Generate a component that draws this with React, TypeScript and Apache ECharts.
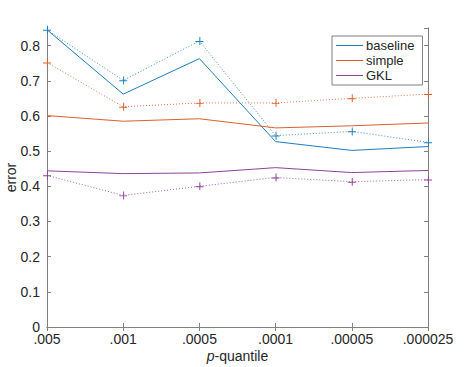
import React, { useEffect, useRef } from "react";
import * as echarts from "echarts";

const categories = [".005", ".001", ".0005", ".0001", ".00005", ".000025"];
const baselineSolid = [0.845, 0.662, 0.763, 0.527, 0.502, 0.513];
const baselineDotted = [0.845, 0.701, 0.813, 0.544, 0.556, 0.525];
const simpleSolid = [0.601, 0.585, 0.592, 0.566, 0.572, 0.58];
const simpleDotted = [0.752, 0.626, 0.637, 0.637, 0.65, 0.662];
const gklSolid = [0.444, 0.436, 0.438, 0.453, 0.439, 0.445];
const gklDotted = [0.431, 0.374, 0.4, 0.425, 0.413, 0.419];
const yTicks = [0, 0.1, 0.2, 0.3, 0.4, 0.5, 0.6, 0.7, 0.8];

const BLUE = "#1f7ec0";
const ORANGE = "#dc6030";
const PURPLE = "#8a4596";
const AXIS = "#808080";
const TEXT = "#262626";
const FONT = "Liberation Sans, Arial, sans-serif";
const PLUS = "path://M0,4.45 L9,4.45 L9,5.55 L0,5.55 Z M4.45,0 L5.55,0 L5.55,9 L4.45,9 Z";

export default function App() {
  const ref = useRef<HTMLDivElement>(null);
  useEffect(() => {
    if (!ref.current) return;
    const chart = echarts.init(ref.current, undefined, { renderer: "svg" });
    const solid = (name: string, data: number[], color: string) => ({
      name,
      type: "line",
      data,
      symbol: "none",
      color,
      lineStyle: { color, width: 1, type: "solid" },
      itemStyle: { color },
    });
    const dotted = (name: string, data: number[], color: string) => ({
      name: name + "_d",
      type: "line",
      data,
      symbol: PLUS,
      symbolSize: 8,
      color,
      lineStyle: { color, width: 1, type: [1, 2], opacity: 0.85 },
      itemStyle: { color },
    });
    const legendItem = (name: string, color: string) => ({
      name,
      icon: "rect",
      itemStyle: { color, borderWidth: 0, borderColor: color },
      lineStyle: { color, width: 0 },
    });
    chart.setOption({
      animation: false,
      textStyle: { fontFamily: FONT },
      grid: { left: 47, right: 46, top: 28, bottom: 40, containLabel: false, outerBoundsMode: "none" },
      legend: {
        orient: "vertical",
        left: 332,
        top: 36,
        data: [legendItem("baseline", BLUE), legendItem("simple", ORANGE), legendItem("GKL", PURPLE)],
        itemWidth: 27,
        itemHeight: 1,
        itemGap: 0,
        padding: [2, 8, 2, 4],
        borderColor: AXIS,
        borderWidth: 1,
        borderRadius: 0,
        backgroundColor: "#fff",
        textStyle: { fontSize: 13, lineHeight: 15, color: TEXT, fontFamily: FONT, padding: [0, 0, 0, -2] },
      },
      xAxis: [
        {
          type: "category",
          data: categories,
          boundaryGap: false,
          axisLine: { lineStyle: { color: AXIS, width: 1 } },
          axisTick: { inside: true, length: 4, lineStyle: { color: AXIS } },
          axisLabel: { color: TEXT, fontSize: 14, margin: 5, fontFamily: FONT },
          name: "{i|p}-quantile",
          nameLocation: "middle",
          nameGap: 22,
          nameMoveOverlap: false,
          nameTextStyle: {
            color: TEXT,
            fontSize: 14,
            fontFamily: FONT,
            rich: { i: { fontStyle: "italic", fontSize: 14, color: TEXT, fontFamily: FONT } },
          },
          splitLine: { show: false },
        },
        {
          type: "category",
          data: categories,
          boundaryGap: false,
          position: "top",
          axisLine: { lineStyle: { color: AXIS, width: 1 } },
          axisTick: { inside: true, length: 4, lineStyle: { color: AXIS } },
          axisLabel: { show: false },
          splitLine: { show: false },
        },
      ],
      yAxis: [
        {
          type: "value",
          min: 0,
          max: 0.85,
          interval: 0.1,
          axisLine: { show: true, lineStyle: { color: AXIS, width: 1 } },
          axisTick: { show: true, inside: true, length: 4, lineStyle: { color: AXIS } },
          axisLabel: {
            color: TEXT,
            fontSize: 14,
            margin: 7,
            fontFamily: FONT,
            showMaxLabel: false,
            formatter: (v: number) =>
              yTicks.some((t) => Math.abs(t - v) < 1e-9) ? (v === 0 ? "0" : v.toFixed(1)) : "",
          },
          splitLine: { show: false },
          name: "error",
          nameLocation: "middle",
          nameGap: 29,
          nameMoveOverlap: false,
          nameTextStyle: { color: TEXT, fontSize: 14, fontFamily: FONT },
        },
        {
          type: "value",
          min: 0,
          max: 0.85,
          interval: 0.1,
          position: "right",
          axisLine: { show: true, lineStyle: { color: AXIS, width: 1 } },
          axisTick: { show: true, inside: true, length: 4, lineStyle: { color: AXIS } },
          axisLabel: { show: false },
          splitLine: { show: false },
        },
      ],
      series: [
        solid("baseline", baselineSolid, BLUE),
        dotted("baseline", baselineDotted, BLUE),
        solid("simple", simpleSolid, ORANGE),
        dotted("simple", simpleDotted, ORANGE),
        solid("GKL", gklSolid, PURPLE),
        dotted("GKL", gklDotted, PURPLE),
      ],
    });
    return () => chart.dispose();
  }, []);
  return <div ref={ref} style={{ width: 474, height: 367, position: "absolute", left: 0, top: 0 }} />;
}
